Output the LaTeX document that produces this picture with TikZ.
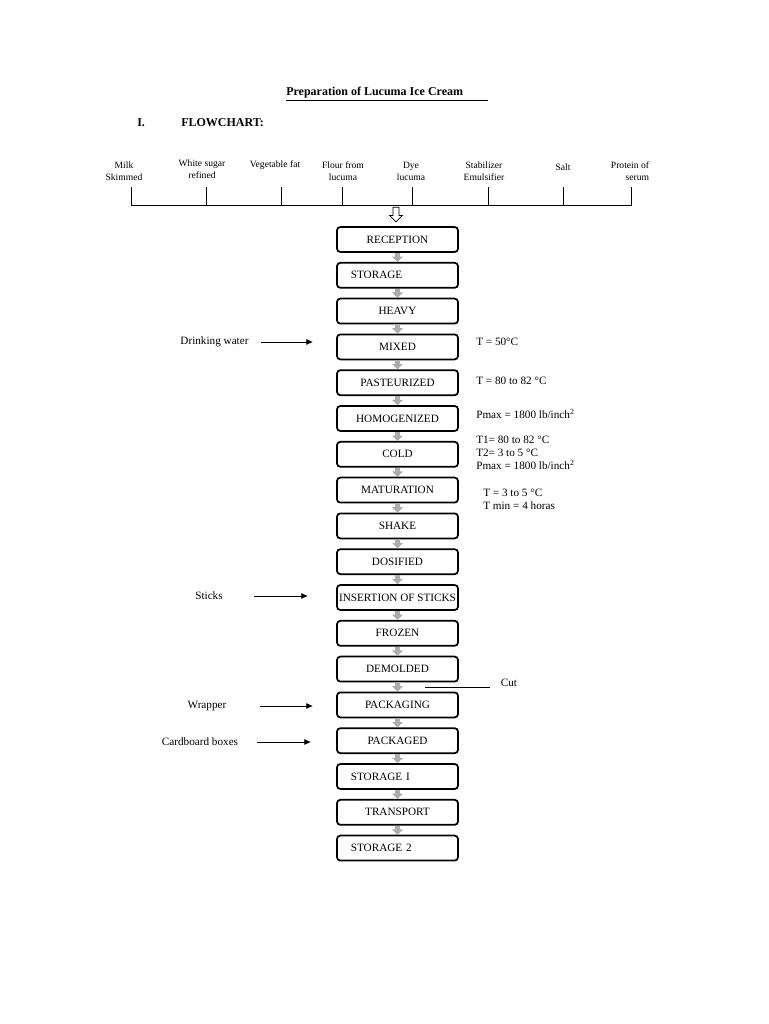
\documentclass[tikz,border=0pt]{standalone}
\usepackage{fontspec}
\setmainfont{Liberation Serif}
\usetikzlibrary{arrows.meta,shapes.arrows}

\begin{document}
\begin{tikzpicture}[x=0.75pt,y=-0.75pt,
    stage/.style={draw,line width=1.3pt,rounded corners=2.5pt,minimum width=90.75pt,minimum height=18.75pt,inner xsep=0pt,font=\fontsize{8.4}{10}\selectfont},
    leftstage/.style={stage,text width=70pt,align=left},
    flow/.style={draw=gray!65,line width=3.3pt,-{Triangle[length=4pt,width=8pt]}},
    feed/.style={line width=0.6pt,-{Latex[length=5pt,width=4.5pt]}},
    ingredient/.style={align=center,inner sep=0pt,font=\fontsize{7.2}{9}\selectfont},
    side/.style={font=\fontsize{8.4}{10}\selectfont},
    note/.style={anchor=west,align=left,inner sep=0pt,font=\fontsize{8.4}{9.75}\selectfont}]
    \path[use as bounding box,fill=white] (0,0) rectangle (768,1024);

    % heading
    \node[anchor=west,inner sep=0pt,font=\fontsize{9}{11}\bfseries] (title) at (286,94) {\underline{Preparation of Lucuma Ice Cream\hspace{18.75pt}}};
    \node[anchor=west,inner sep=0pt,font=\fontsize{9}{11}\bfseries] (num) at (137,123) {I.};
    \node[anchor=west,inner sep=0pt,font=\fontsize{9}{11}\bfseries] (head) at (181,123) {FLOWCHART:};

    % raw materials
    \node[ingredient] (milk) at (124,171) {Milk\\Skimmed};
    \node[ingredient] (sugar) at (202,169) {White sugar\\refined};
    \node[ingredient] (fat) at (275,165) {Vegetable fat};
    \node[ingredient] (flour) at (343,171) {Flour from\\lucuma};
    \node[ingredient] (dye) at (411,171) {Dye\\lucuma};
    \node[ingredient] (stab) at (484,171) {Stabilizer\\Emulsifier};
    \node[ingredient] (salt) at (563,167) {Salt};
    \node[ingredient,align=right] (protein) at (630,171) {Protein of\\serum};
    \draw[line width=0.6pt] (131,187) -- (131,205) -- (631,205) -- (631,187);
    \draw[line width=0.6pt] (206,187) -- (206,205);
    \draw[line width=0.6pt] (281,187) -- (281,205);
    \draw[line width=0.6pt] (342,187) -- (342,205);
    \draw[line width=0.6pt] (412,187) -- (412,205);
    \draw[line width=0.6pt] (488,187) -- (488,205);
    \draw[line width=0.6pt] (563,187) -- (563,205);
    \node[single arrow,draw,fill=white,line width=0.6pt,shape border rotate=270,inner sep=2pt,minimum height=11pt,single arrow head extend=2.5pt] (inlet) at (396,213) {};

    % process line
    \node[stage] (reception) at (397.5,239.5) {RECEPTION};
    \node[leftstage] (storage) at (397.5,275.3) {STORAGE};
    \node[stage] (heavy) at (397.5,311.1) {HEAVY};
    \node[stage] (mixed) at (397.5,346.9) {MIXED};
    \node[stage] (pasteurized) at (397.5,382.7) {PASTEURIZED};
    \node[stage] (homogenized) at (397.5,418.5) {HOMOGENIZED};
    \node[stage] (cold) at (397.5,454.3) {COLD};
    \node[stage] (maturation) at (397.5,490.1) {MATURATION};
    \node[stage] (shake) at (397.5,525.9) {SHAKE};
    \node[stage] (dosified) at (397.5,561.7) {DOSIFIED};
    \node[stage] (insertion) at (397.5,597.5) {INSERTION OF STICKS};
    \node[stage] (frozen) at (397.5,633.3) {FROZEN};
    \node[stage] (demolded) at (397.5,669.1) {DEMOLDED};
    \node[stage] (packaging) at (397.5,704.9) {PACKAGING};
    \node[stage] (packaged) at (397.5,740.7) {PACKAGED};
    \node[leftstage] (storage1) at (397.5,776.5) {STORAGE I};
    \node[stage] (transport) at (397.5,812.3) {TRANSPORT};
    \node[leftstage] (storage2) at (397.5,848.1) {STORAGE 2};
    \draw[flow] (reception) -- (storage);
    \draw[flow] (storage) -- (heavy);
    \draw[flow] (heavy) -- (mixed);
    \draw[flow] (mixed) -- (pasteurized);
    \draw[flow] (pasteurized) -- (homogenized);
    \draw[flow] (homogenized) -- (cold);
    \draw[flow] (cold) -- (maturation);
    \draw[flow] (maturation) -- (shake);
    \draw[flow] (shake) -- (dosified);
    \draw[flow] (dosified) -- (insertion);
    \draw[flow] (insertion) -- (frozen);
    \draw[flow] (frozen) -- (demolded);
    \draw[flow] (demolded) -- (packaging);
    \draw[flow] (packaging) -- (packaged);
    \draw[flow] (packaged) -- (storage1);
    \draw[flow] (storage1) -- (transport);
    \draw[flow] (transport) -- (storage2);

    % inputs on the left
    \node[side] (water) at (214.5,342) {Drinking water};
    \coordinate (waterin) at (313,342);
    \draw[feed,shorten <=6pt] (water) -- (waterin);
    \node[side] (sticks) at (209,596) {Sticks};
    \coordinate (sticksin) at (308,596);
    \draw[feed,shorten <=20pt] (sticks) -- (sticksin);
    \node[side] (wrapper) at (207,706) {Wrapper};
    \coordinate (wrapperin) at (313,706);
    \draw[feed,shorten <=22pt] (wrapper) -- (wrapperin);
    \node[side] (boxes) at (200,742) {Cardboard boxes};
    \coordinate (boxesin) at (311,742);
    \draw[feed,shorten <=11pt] (boxes) -- (boxesin);

    % output and conditions on the right
    \node[side] (cut) at (509,683) {Cut};
    \coordinate (cutstart) at (425,687);
    \draw[line width=0.6pt,shorten >=4.5pt] (cutstart) -- (cut.west |- cutstart);
    \node[note] (tmix) at (476,342) {T = 50°C};
    \node[note] (tpast) at (476,381) {T = 80 to 82 °C};
    \node[note] (phomo) at (476,414) {Pmax = 1800 lb/inch\textsuperscript{2}};
    \node[note] (tcold) at (476,453) {T1= 80 to 82 °C\\T2= 3 to 5 °C\\Pmax = 1800 lb/inch\textsuperscript{2}};
    \node[note] (tmat) at (483,499.5) {T = 3 to 5 °C\\T min = 4 horas};
\end{tikzpicture}
\end{document}
